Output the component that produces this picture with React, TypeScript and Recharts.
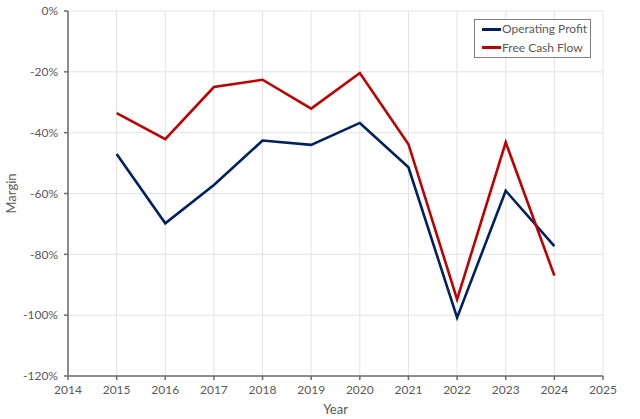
import React from "react"
import {
  LineChart,
  Line,
  XAxis,
  YAxis,
  CartesianGrid,
} from "recharts"

// values (margin, %)
const years = [2015, 2016, 2017, 2018, 2019, 2020, 2021, 2022, 2023, 2024]
const operatingProfit = [-47, -69.8, -57.2, -42.6, -44, -36.8, -51.4, -100.8, -59.1, -77.3]
const freeCashFlow = [-33.6, -42.1, -25, -22.6, -32.1, -20.4, -43.8, -94.8, -43.2, -87]

const xTicks = [2014, 2015, 2016, 2017, 2018, 2019, 2020, 2021, 2022, 2023, 2024, 2025]
const yTicks = [0, -20, -40, -60, -80, -100, -120]

const seriesNames = ["Operating Profit", "Free Cash Flow"]
const seriesColors = ["#002060", "#C00000"]

const data = years.map((year, i) => ({
  year,
  op: operatingProfit[i],
  fcf: freeCashFlow[i],
}))

const font = "Lato, 'Liberation Sans', sans-serif"
const axisGray = "#6b6b6b"
const textGray = "#595959"

// legend box sits over the plot in the top right, like the Excel original
function LegendBox() {
  return (
    <div
      style={{
        position: "absolute",
        left: 474,
        top: 19,
        width: 117,
        height: 39,
        boxSizing: "border-box",
        border: "1px solid #7f7f7f",
        background: "#fff",
        padding: "0 0 0 7px",
        fontFamily: font,
        fontSize: 12,
        color: textGray,
        lineHeight: "18.5px",
        whiteSpace: "nowrap",
      }}
    >
      {seriesNames.map((name, i) => (
        <div key={name} style={{ display: "flex", alignItems: "center" }}>
          <span
            style={{
              display: "inline-block",
              width: 19,
              height: 3,
              background: seriesColors[i],
              marginRight: 1,
            }}
          />
          <span>{name}</span>
        </div>
      ))}
    </div>
  )
}

export default function App() {
  return (
    <div style={{ position: "absolute", left: 0, top: 0, width: 640, height: 419, background: "#fff" }}>
      <LineChart
        width={640}
        height={419}
        data={data}
        margin={{ top: 11, right: 37, left: 0, bottom: 3 }}
      >
        <CartesianGrid stroke="#e3e3e3" strokeWidth={1} />
        <XAxis
          dataKey="year"
          type="number"
          domain={[2014, 2025]}
          ticks={xTicks}
          interval={0}
          height={40}
          stroke={axisGray}
          strokeWidth={1.5}
          tickSize={4}
          tickMargin={5}
          tick={{ fill: textGray, fontSize: 12, fontFamily: font }}
          label={{
            value: "Year",
            position: "insideBottom",
            offset: 2,
            fill: textGray,
            fontSize: 13,
            fontFamily: font,
          }}
        />
        <YAxis
          type="number"
          domain={[-120, 0]}
          ticks={yTicks}
          interval={0}
          width={68}
          stroke={axisGray}
          strokeWidth={1.5}
          tickSize={4}
          tickMargin={6}
          tickFormatter={(v) => `${v}%`}
          tick={{ fill: textGray, fontSize: 12, fontFamily: font }}
          label={{
            value: "Margin",
            angle: -90,
            position: "insideLeft",
            offset: 11,
            fill: textGray,
            fontSize: 13,
            fontFamily: font,
            style: { textAnchor: "middle" },
          }}
        />
        <Line
          type="linear"
          dataKey="op"
          name={seriesNames[0]}
          stroke={seriesColors[0]}
          strokeWidth={2.6}
          dot={false}
          isAnimationActive={false}
        />
        <Line
          type="linear"
          dataKey="fcf"
          name={seriesNames[1]}
          stroke={seriesColors[1]}
          strokeWidth={2.6}
          dot={false}
          isAnimationActive={false}
        />
      </LineChart>
      <LegendBox />
    </div>
  )
}
